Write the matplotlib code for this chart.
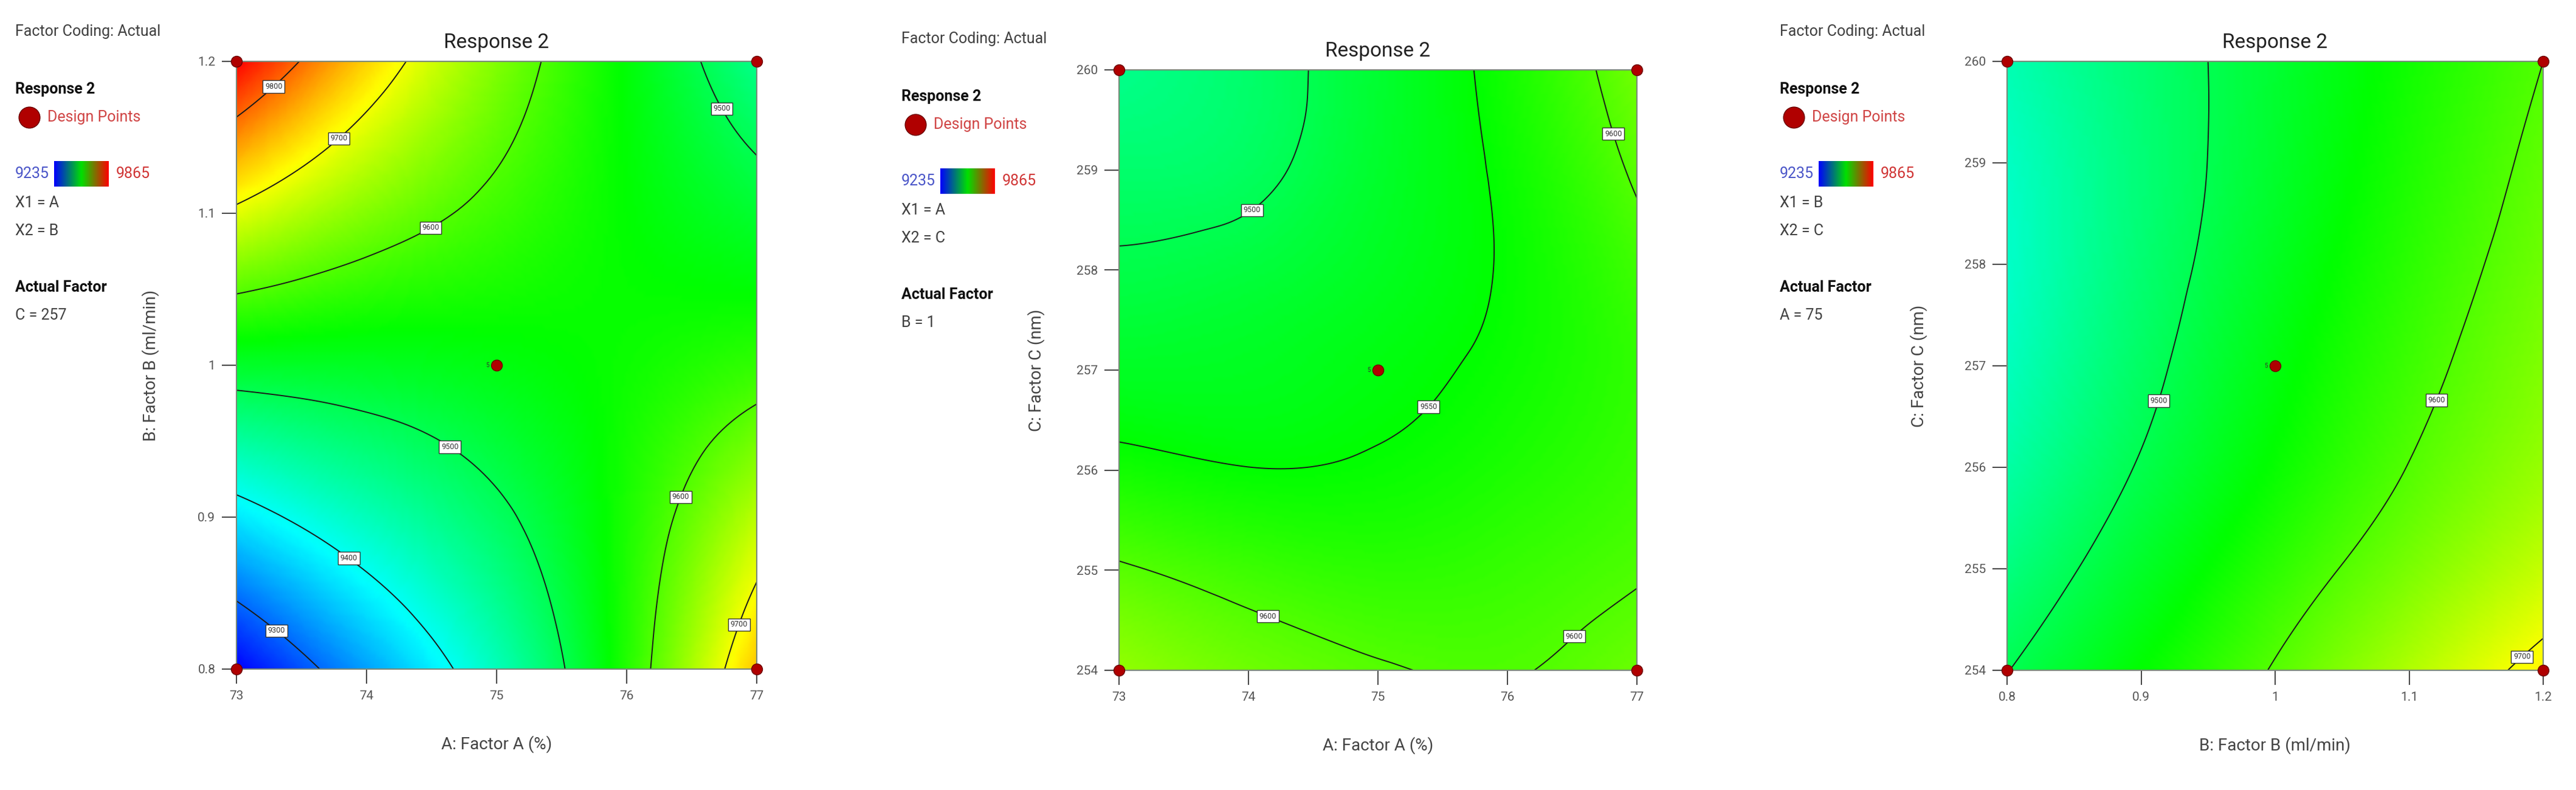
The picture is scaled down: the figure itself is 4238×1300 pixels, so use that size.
import numpy as np
import matplotlib

matplotlib.use("Agg")
import matplotlib.pyplot as plt
import matplotlib.tri as mtri
from matplotlib.colors import LinearSegmentedColormap

plt.rcParams["font.family"] = ["Roboto", "DejaVu Sans"]

W, H = 4238, 1300

# response range shown on the legend bar
z_min, z_max = 9235, 9865

factor_a = [73, 74, 75, 76, 77]
factor_b = [0.8, 0.9, 1.0, 1.1, 1.2]
factor_c = [254, 255, 256, 257, 258, 259, 260]

# panel 1: rows = factor B (0.8 -> 1.2), cols = factor A (73 -> 77), C = 257
resp_ab = [
    [9235, 9335, 9435, 9570, 9745],
    [9379, 9435, 9490, 9566, 9665],
    [9525, 9529, 9540, 9557, 9580],
    [9690, 9630, 9587, 9550, 9521],
    [9865, 9735, 9630, 9546, 9465],
]
# panel 2: rows = factor C (254 -> 260), cols = factor A, B = 1
resp_ac = [
    [9640, 9618, 9603, 9598, 9615],
    [9604, 9587, 9577, 9583, 9597],
    [9561, 9551, 9554, 9567, 9585],
    [9528, 9530, 9541, 9557, 9580],
    [9505, 9513, 9530, 9553, 9588],
    [9484, 9492, 9523, 9556, 9605],
    [9465, 9485, 9520, 9562, 9620],
]
# panel 3: rows = factor C, cols = factor B, A = 75
resp_bc = [
    [9499, 9550, 9603, 9658, 9715],
    [9471, 9525, 9577, 9625, 9671],
    [9448, 9503, 9554, 9601, 9643],
    [9433, 9489, 9541, 9587, 9629],
    [9426, 9480, 9530, 9576, 9618],
    [9429, 9477, 9523, 9567, 9609],
    [9440, 9480, 9520, 9560, 9600],
]

levels_ab = [9300, 9400, 9500, 9600, 9700, 9800]
levels_ac = [9500, 9550, 9600]
levels_bc = [9500, 9600, 9700]

# design points in each slice
points_ab = ([73, 73, 77, 77, 75], [0.8, 1.2, 0.8, 1.2, 1.0])
points_ac = ([73, 73, 77, 77, 75], [254, 260, 254, 260, 257])
points_bc = ([0.8, 0.8, 1.2, 1.2, 1.0], [254, 260, 254, 260, 257])
center_runs = "5"

# where the contour labels sit
labels_ab = [(73.28, 1.184), (73.79, 1.149), (74.47, 1.094), (76.65, 1.165),
             (74.70, 0.954), (76.39, 0.914), (73.95, 0.883), (73.40, 0.835),
             (76.87, 0.829)]
labels_ac = [(74.01, 258.63), (75.49, 256.51), (76.84, 259.37),
             (74.14, 254.51), (76.55, 254.29)]
labels_bc = [(0.910, 256.67), (1.119, 256.67), (1.176, 254.25)]

cmap = LinearSegmentedColormap.from_list(
    "de", ["#0000ff", "#00ffff", "#00ff00", "#ffff00", "#ff0000"]
)
legend_cmap = LinearSegmentedColormap.from_list(
    "de_legend", ["#0000ff", "#00e000", "#ff0000"]
)

fig = plt.figure(figsize=(W / 100, H / 100), dpi=100)
fig.patch.set_facecolor("white")

# overlay in pixel coordinates for the side legends and labels
ov = fig.add_axes([0, 0, 1, 1])
ov.set_xlim(0, W)
ov.set_ylim(H, 0)
ov.axis("off")


def add_axes_px(left, right, top, bottom):
    return fig.add_axes(
        [left / W, 1 - bottom / H, (right - left) / W, (bottom - top) / H]
    )


def draw_panel(ax, xs, ys, grid, levels, label_pos, points):
    nx, ny = len(xs), len(ys)
    ii, jj = np.meshgrid(np.arange(nx, dtype=float), np.arange(ny, dtype=float))
    tri_idx = mtri.Triangulation(ii.ravel(), jj.ravel())
    refiner = mtri.UniformTriRefiner(tri_idx)
    fine, zf = refiner.refine_field(np.asarray(grid, float).ravel(), subdiv=5)
    fx = np.interp(fine.x, np.arange(nx), xs)
    fy = np.interp(fine.y, np.arange(ny), ys)
    tri_xy = mtri.Triangulation(fx, fy, fine.triangles)

    ax.tripcolor(tri_xy, zf, shading="gouraud", cmap=cmap, vmin=z_min, vmax=z_max)
    ax.set_xlim(xs[0], xs[-1])
    ax.set_ylim(ys[0], ys[-1])
    cs = ax.tricontour(tri_xy, zf, levels=levels, colors="#1a1a1a", linewidths=1.4)
    texts = ax.clabel(cs, fmt="%d", fontsize=9, manual=label_pos, inline=False)
    for t in texts:
        t.set_rotation(0)
        t.set_color("#333333")
        t.set_zorder(5)
        t.set_bbox(dict(boxstyle="square,pad=0.3", fc="white", ec="#333333", lw=1.0))

    ax.plot(points[0], points[1], "o", ms=13, mfc="#b00000", mec="#6a0000",
            mew=1.0, clip_on=False, zorder=6)
    ax.annotate(center_runs, (points[0][-1], points[1][-1]), xytext=(-9, 0),
                textcoords="offset points", ha="right", va="center",
                fontsize=7, color="#333333")

    ax.set_xticks(xs)
    ax.set_yticks(ys)
    ax.set_xticklabels([f"{v:g}" for v in xs])
    ax.set_yticklabels([f"{v:g}" for v in ys])
    ax.tick_params(direction="out", length=17, width=1.4, color="#444444",
                   labelsize=15, labelcolor="#555555", pad=8)
    for sp in ax.spines.values():
        sp.set_color("#7a8a7a")
        sp.set_linewidth(1.5)


def draw_legend(x0, y0, x1_name, x2_name, actual):
    fs = 18
    ov.text(x0, y0 + 52, "Factor Coding: Actual", fontsize=fs, color="#404040",
            va="center")
    ov.text(x0, y0 + 147, "Response 2", fontsize=fs, fontweight="bold",
            color="#111111", va="center")
    ov.plot([x0 + 23], [y0 + 193], "o", ms=25, mfc="#b00000", mec="#6a0000")
    ov.text(x0 + 53, y0 + 193, "Design Points", fontsize=fs, color="#d04545",
            va="center")
    ov.text(x0, y0 + 286, f"{z_min}", fontsize=fs, color="#4a55c8", va="center")
    ov.imshow(np.linspace(0, 1, 256)[None, :], cmap=legend_cmap, aspect="auto",
              extent=(x0 + 64, x0 + 154, y0 + 307, y0 + 265))
    ov.text(x0 + 166, y0 + 286, f"{z_max}", fontsize=fs, color="#d03535",
            va="center")
    ov.text(x0, y0 + 334, x1_name, fontsize=fs, color="#404040", va="center")
    ov.text(x0, y0 + 380, x2_name, fontsize=fs, color="#404040", va="center")
    ov.text(x0, y0 + 473, "Actual Factor", fontsize=fs, fontweight="bold",
            color="#111111", va="center")
    ov.text(x0, y0 + 519, actual, fontsize=fs, color="#404040", va="center")


panels = [
    # axes box (left, right, top, bottom), legend origin, data
    dict(box=(389, 1245, 101, 1101), leg=(25, 0), xs=factor_a, ys=factor_b,
         z=resp_ab, lv=levels_ab, lab=labels_ab, pts=points_ab,
         x1="X1 = A", x2="X2 = B", act="C = 257",
         xlabel="A: Factor A (%)", ylabel="B: Factor B (ml/min)", yoff=141),
    dict(box=(1841, 2693, 115, 1103), leg=(1483, 12), xs=factor_a, ys=factor_c,
         z=resp_ac, lv=levels_ac, lab=labels_ac, pts=points_ac,
         x1="X1 = A", x2="X2 = C", act="B = 1",
         xlabel="A: Factor A (%)", ylabel="C: Factor C (nm)", yoff=136),
    dict(box=(3302, 4184, 101, 1103), leg=(2928, 0), xs=factor_b, ys=factor_c,
         z=resp_bc, lv=levels_bc, lab=labels_bc, pts=points_bc,
         x1="X1 = B", x2="X2 = C", act="A = 75",
         xlabel="B: Factor B (ml/min)", ylabel="C: Factor C (nm)", yoff=145),
]

for p in panels:
    l, r, t, b = p["box"]
    ax = add_axes_px(l, r, t, b)
    draw_panel(ax, p["xs"], p["ys"], p["z"], p["lv"], p["lab"], p["pts"])
    draw_legend(p["leg"][0], p["leg"][1], p["x1"], p["x2"], p["act"])
    ov.text((l + r) / 2, t - 31, "Response 2", fontsize=24, color="#222222",
            ha="center", va="center")
    ov.text((l + r) / 2, b + 124, p["xlabel"], fontsize=20, color="#444444",
            ha="center", va="center")
    ov.text(l - p["yoff"], (t + b) / 2, p["ylabel"], fontsize=20, color="#444444",
            ha="center", va="center", rotation=90)

ov.set_xlim(0, W)
ov.set_ylim(H, 0)

fig.savefig("out.png", dpi=100, facecolor="white")
